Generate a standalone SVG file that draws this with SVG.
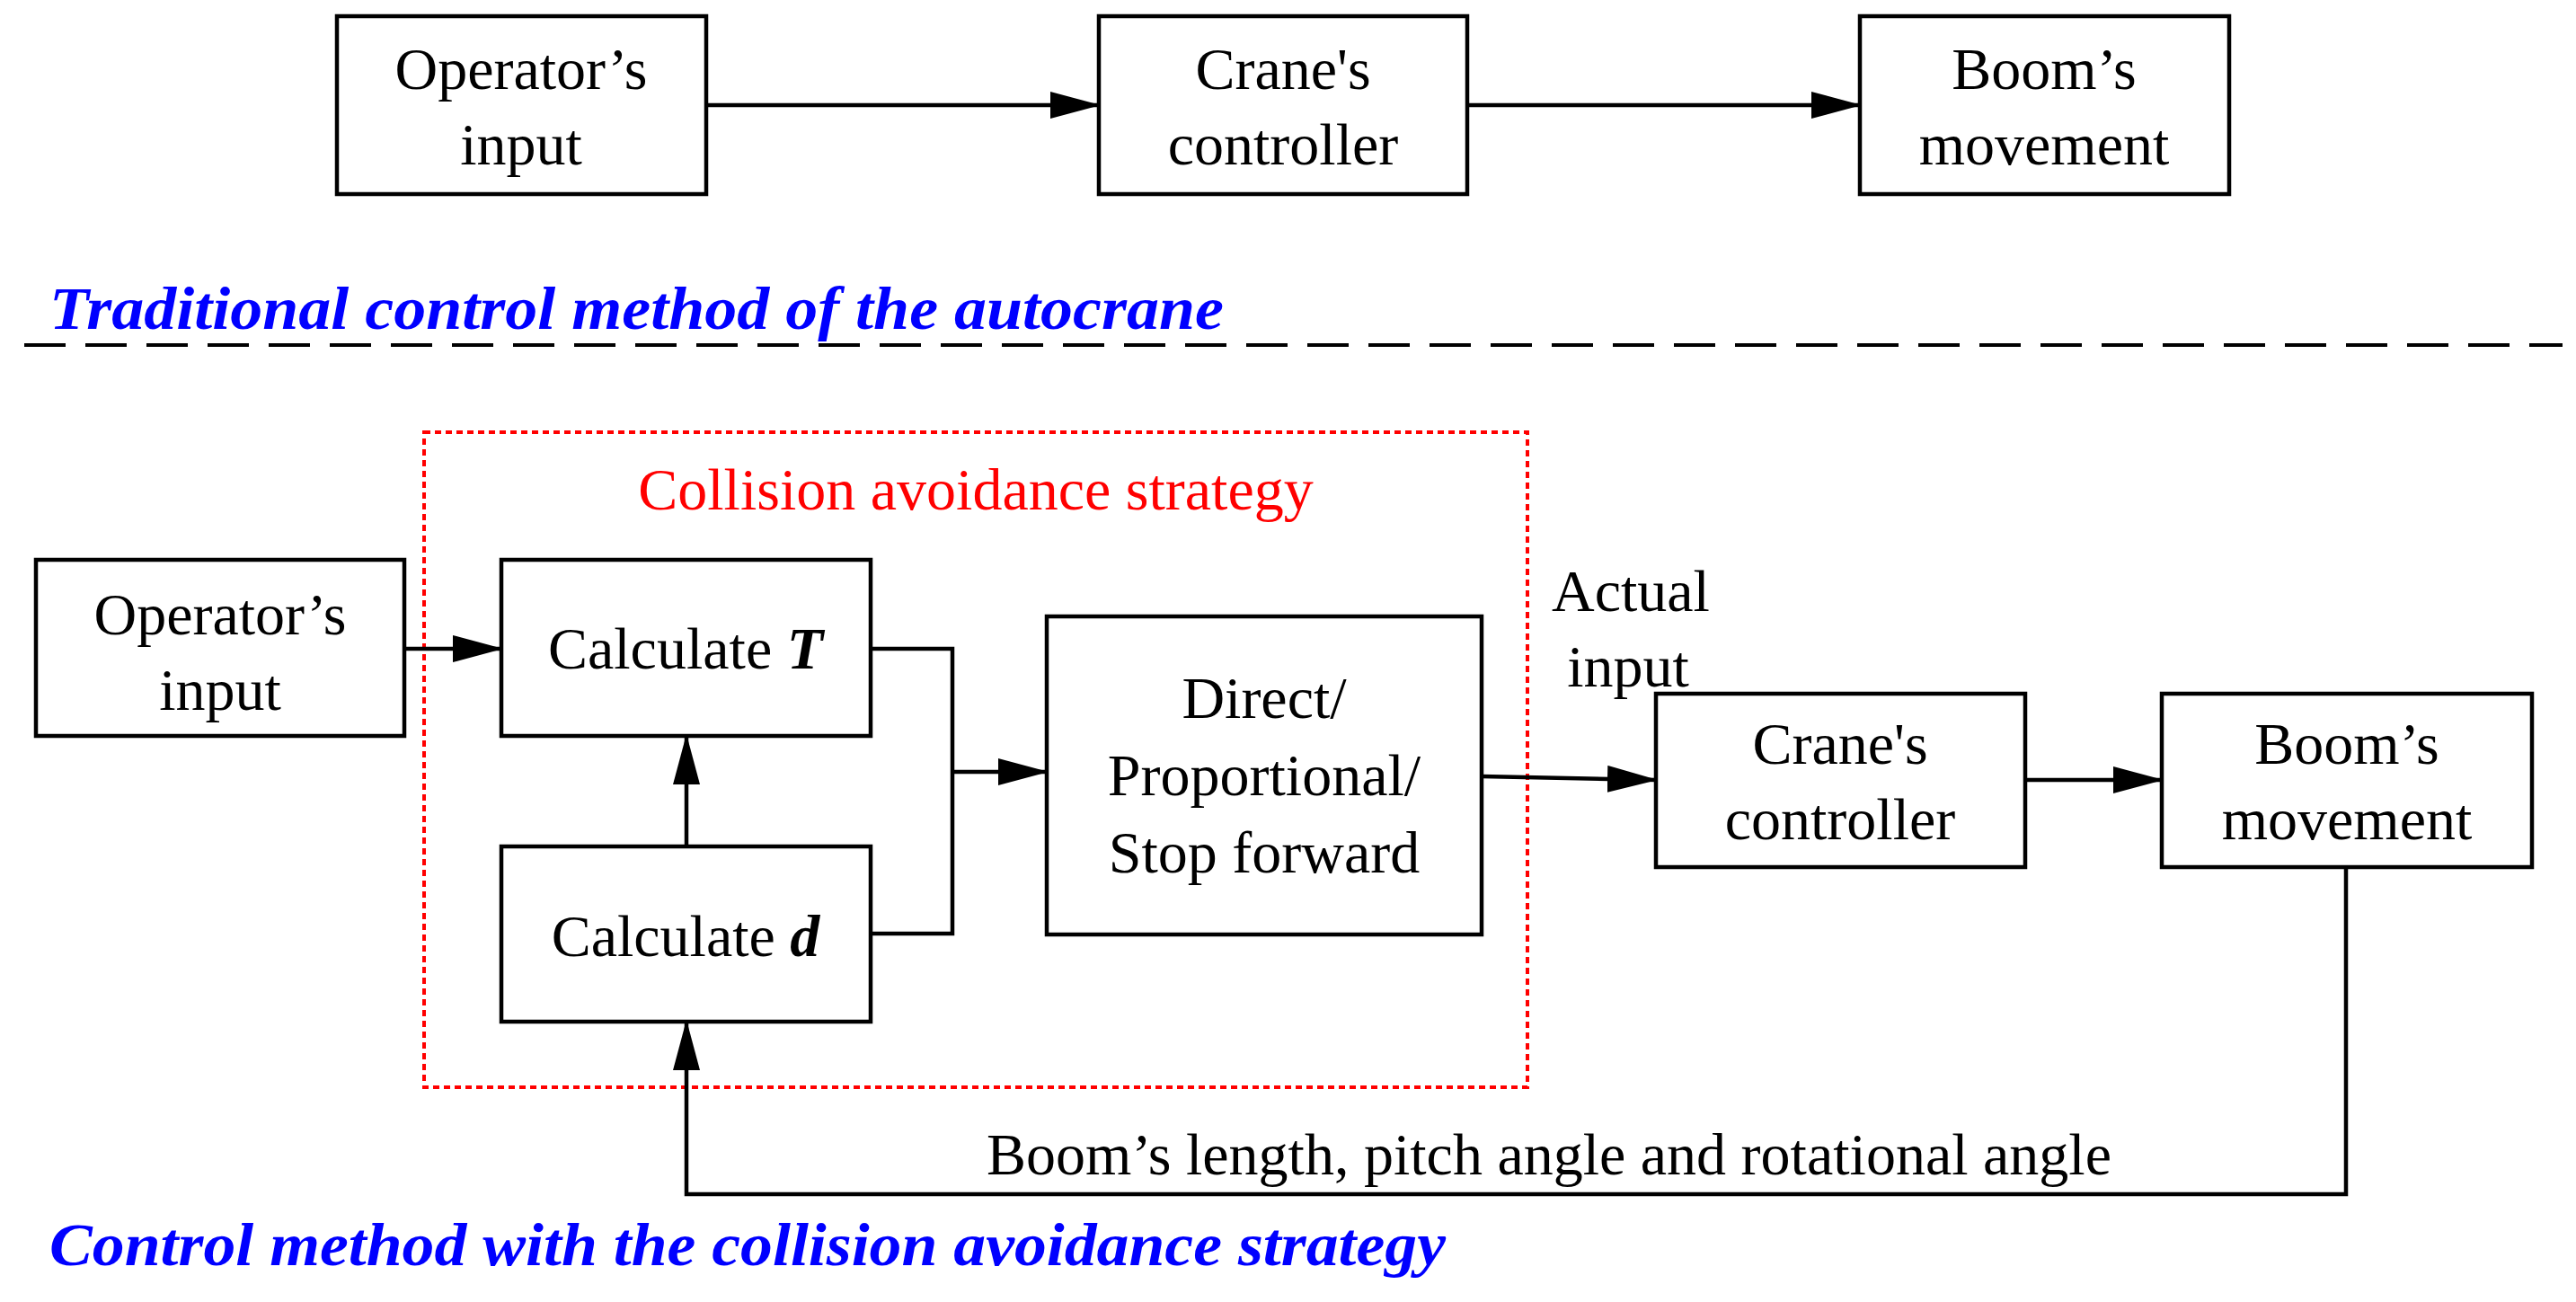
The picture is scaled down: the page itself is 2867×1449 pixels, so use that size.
<svg xmlns="http://www.w3.org/2000/svg" width="2867" height="1449" viewBox="0 0 2867 1449">
<style>
.b{fill:#fff;stroke:#000;stroke-width:4.5}
.t{font-family:"Liberation Serif",serif;font-size:66px;text-anchor:middle;fill:#000}
.c{fill:none;stroke:#000;stroke-width:4.5}
.h{font-family:"Liberation Serif",serif;font-size:68px;font-weight:bold;font-style:italic;fill:#0000ff}
</style>
<defs>
<marker id="a" markerUnits="userSpaceOnUse" markerWidth="56" markerHeight="30" refX="54" refY="15" orient="auto">
<path d="M0,0 L56,15 L0,30 Z" fill="#000"/>
</marker>
</defs>
<rect width="2867" height="1449" fill="#fff"/>
<g id="top-operator"><rect class="b" x="375" y="18" width="411" height="198"/><text class="t" x="580" y="99">Operator’s</text><text class="t" x="580" y="183">input</text></g>
<g id="top-crane"><rect class="b" x="1223" y="18" width="410" height="198"/><text class="t" x="1428" y="99">Crane's</text><text class="t" x="1428" y="183">controller</text></g>
<g id="top-boom"><rect class="b" x="2070" y="18" width="411" height="198"/><text class="t" x="2275" y="99">Boom’s</text><text class="t" x="2275" y="183">movement</text></g>
<text class="h" x="55" y="366" textLength="1307" lengthAdjust="spacingAndGlyphs">Traditional control method of the autocrane</text>
<line x1="27" y1="384" x2="2852" y2="384" stroke="#000" stroke-width="4" stroke-dasharray="46,22"/>
<g id="strategy"><rect x="472" y="481" width="1228" height="729" fill="none" stroke="#ff0000" stroke-width="4" stroke-dasharray="7,5"/><text class="t" x="1086" y="567" fill="#ff0000" style="fill:#ff0000">Collision avoidance strategy</text></g>
<g id="operator"><rect class="b" x="40" y="623" width="410" height="196"/><text class="t" x="245" y="706">Operator’s</text><text class="t" x="245" y="790">input</text></g>
<g id="calcT"><rect class="b" x="558" y="623" width="411" height="196"/><text class="t" x="763" y="744">Calculate <tspan font-weight="bold" font-style="italic">T</tspan></text></g>
<g id="calcd"><rect class="b" x="558" y="942" width="411" height="195"/><text class="t" x="763" y="1064">Calculate <tspan font-weight="bold" font-style="italic">d</tspan></text></g>
<g id="direct"><rect class="b" x="1165" y="686" width="484" height="354"/><text class="t" x="1407" y="799">Direct/</text><text class="t" x="1407" y="885">Proportional/</text><text class="t" x="1407" y="971">Stop forward</text></g>
<g id="crane"><rect class="b" x="1843" y="772" width="411" height="193"/><text class="t" x="2048" y="850">Crane's</text><text class="t" x="2048" y="934">controller</text></g>
<g id="boom"><rect class="b" x="2406" y="772" width="412" height="193"/><text class="t" x="2612" y="850">Boom’s</text><text class="t" x="2612" y="934">movement</text></g>
<g id="connectors">
<line class="c" x1="786" y1="117" x2="1223" y2="117" marker-end="url(#a)"/>
<line class="c" x1="1633" y1="117" x2="2070" y2="117" marker-end="url(#a)"/>
<line class="c" x1="450" y1="722" x2="558" y2="722" marker-end="url(#a)"/>
<polyline class="c" points="969,722 1060,722 1060,1039 969,1039"/>
<line class="c" x1="1060" y1="859" x2="1165" y2="859" marker-end="url(#a)"/>
<line class="c" x1="764" y1="942" x2="764" y2="819" marker-end="url(#a)"/>
<line class="c" x1="1649" y1="864" x2="1843" y2="868" marker-end="url(#a)"/>
<line class="c" x1="2254" y1="868" x2="2406" y2="868" marker-end="url(#a)"/>
<polyline class="c" points="2611,965 2611,1329 764,1329 764,1137" marker-end="url(#a)"/>
<text class="t" x="1815" y="680">Actual</text><text class="t" x="1812" y="764">input</text>
<text class="t" x="1724" y="1307">Boom’s length, pitch angle and rotational angle</text>
</g>
<text class="h" x="55" y="1408" textLength="1554" lengthAdjust="spacingAndGlyphs">Control method with the collision avoidance strategy</text>
</svg>
